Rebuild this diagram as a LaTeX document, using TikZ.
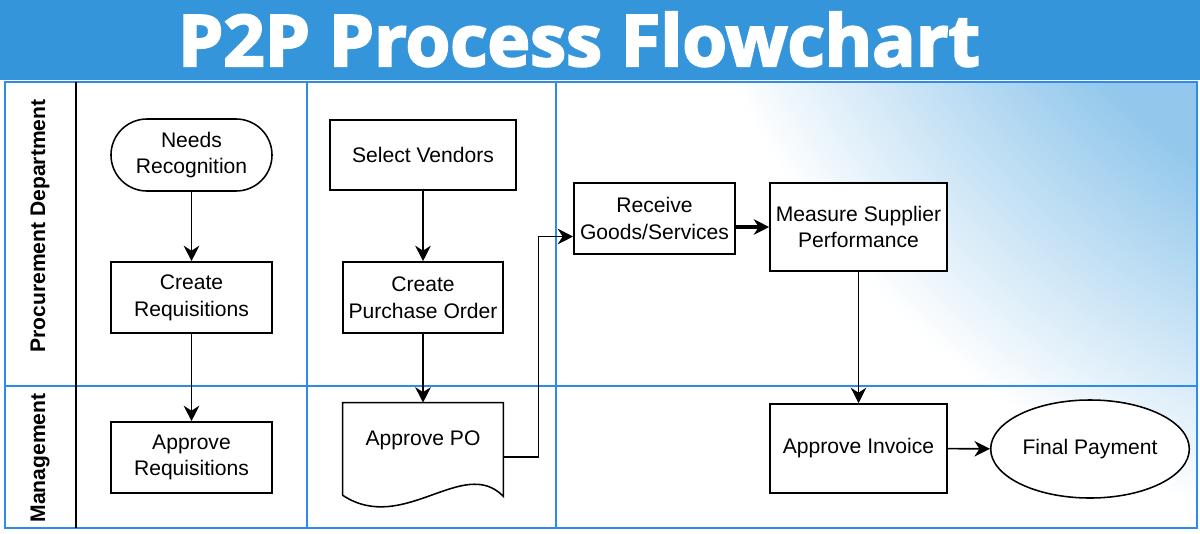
\documentclass[tikz,border=0pt]{standalone}
\usepackage{fontspec}
\setmainfont{Liberation Sans}
\newfontfamily\headfont{Open Sans}[BoldFeatures={FakeBold=3}]
\usetikzlibrary{arrows.meta,positioning,calc,shapes.geometric}
\definecolor{pbanner}{HTML}{3595DA}
\definecolor{plane}{HTML}{2D8CEB}
\definecolor{pglow}{HTML}{93C8EC}
\pgfdeclareradialshading{cornerglow}{\pgfpoint{0bp}{0bp}}{color(0bp)=(pglow); color(16bp)=(pglow); color(25bp)=(white); color(50bp)=(white)}
\tikzset{
  proc/.style={draw=black,fill=white,line width=1.1pt,align=center,font=\fontsize{15}{19}\selectfont,inner sep=2pt,minimum width=4.025cm,minimum height=1.775cm},
  term/.style={proc,rounded corners=0.9cm,minimum height=1.8cm},
  endpt/.style={proc,ellipse,minimum width=4.425cm,minimum height=2.45cm},
  docu/.style={align=center,font=\fontsize{15}{19}\selectfont,inner sep=2pt,minimum width=4cm,minimum height=1.85cm},
  lanelbl/.style={rotate=90,font=\fontsize{15}{18}\selectfont\bfseries},
  lane/.style={draw=plane,line width=1.4pt},
  arr/.style={-{Stealth[length=11pt,width=11pt,inset=3.5pt]},line width=1.1pt,draw=black},
  barr/.style={-{Stealth[length=11pt,width=11pt,inset=3.5pt]},line width=2.6pt,draw=black},
}
\begin{document}
\begin{tikzpicture}[x=0.025cm,y=-0.025cm]
  \useasboundingbox (0,0) rectangle (1200,533);
  % banner
  \fill[pbanner] (0,0) rectangle (1200,80);
  \node[text=white,anchor=base] (title) at (579,66)
    {\resizebox{570pt}{38.4pt}{\headfont\bfseries P2P Process Flowchart}};
  % glow in the right part
  \begin{scope}
    \clip (556,82) rectangle (1197,528);
    \shade[shading=cornerglow] (1500,-300) circle (860);
  \end{scope}
  % lanes
  \draw[lane] (5,82) rectangle (1197,528);
  \draw[lane] (307,82) -- (307,528);
  \draw[lane] (556,82) -- (556,528);
  \draw[lane] (5,386) -- (1197,386);
  \draw[black,line width=1.1pt] (76,82) -- (76,528);
  \node[lanelbl] (lpd) at (40,226) {Procurement Department};
  \node[lanelbl] (lmg) at (40,458) {Management};

  % steps
  \node[term] (nr) at (191.5,155) {Needs\\Recognition};
  \node[proc] (cr) at (191.5,297.5) {Create\\Requisitions};
  \node[proc] (ar) at (191.5,457.5) {Approve\\Requisitions};
  \node[proc,minimum width=4.65cm,minimum height=1.75cm] (sv) at (423,155) {Select Vendors};
  \node[proc,minimum width=4cm] (cpo) at (423,297.5) {Create\\Purchase Order};
  \node[docu] (apo) at (423,440) {Approve PO};
  \draw[line width=1.1pt,fill=white] (apo.north west) -- (apo.north east)
    -- ($(apo.south east)+(0,19)$)
    .. controls ($(apo.south east)+(-40,-22)$) and ($(apo.south east)+(-100,58)$)
    .. ($(apo.south west)+(0,18)$) -- cycle;
  \node[docu] at (apo) {Approve PO};
  \node[proc] (rgs) at (654.5,218.5) {Receive\\Goods/Services};
  \node[proc,minimum width=4.425cm,minimum height=2.2cm] (msp) at (858.5,227) {Measure Supplier\\Performance};
  \node[proc,minimum width=4.425cm,minimum height=2.225cm] (ai) at (858.5,448.5) {Approve Invoice};
  \node[endpt] (fp) at (1090,449) {Final Payment};

  % arrows
  \draw[arr] (nr) -- (cr);
  \draw[arr] (cr) -- (ar);
  \draw[arr] (sv) -- (cpo);
  \draw[arr] (cpo) -- (apo.north);
  \draw[arr] ($(apo.east)+(0,17)$) -- ++(35,0) |- ($(rgs.west)+(0,18)$);
  \draw[barr] (rgs.east |- msp.west) -- (msp.west);
  \draw[arr] (msp) -- (ai);
  \draw[arr] (ai) -- (fp);
\end{tikzpicture}
\end{document}
